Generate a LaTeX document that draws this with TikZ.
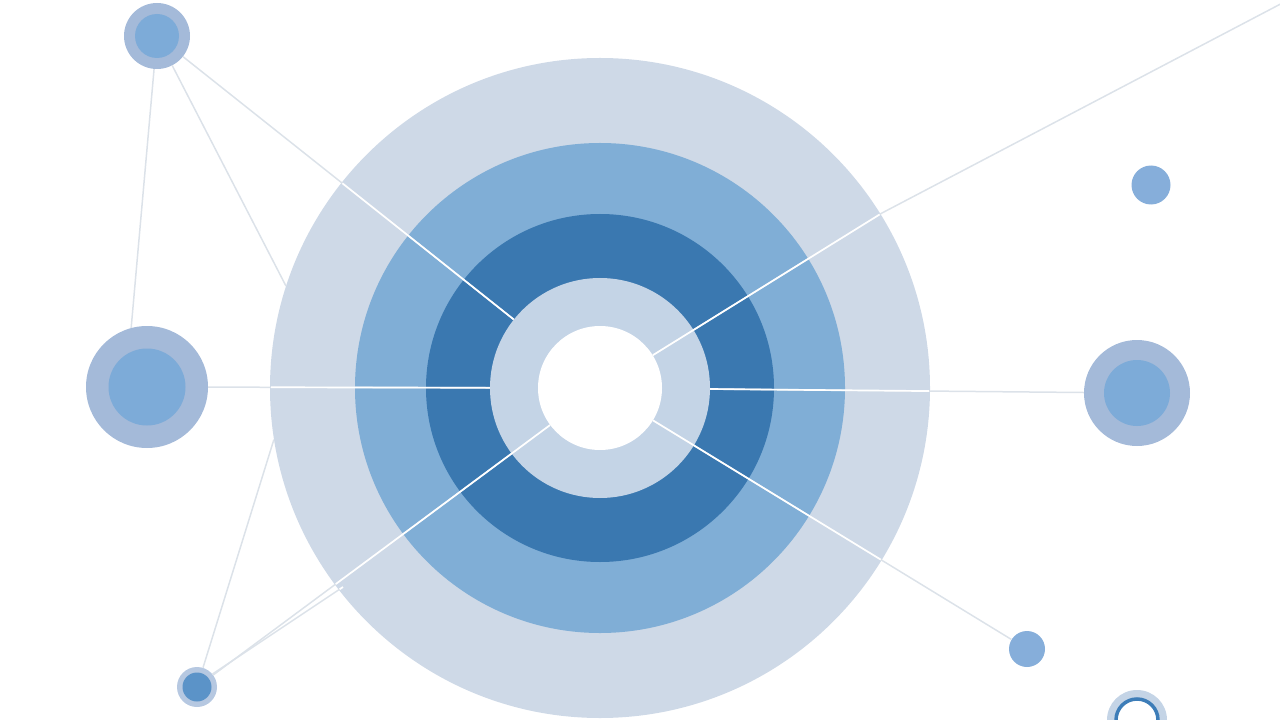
\documentclass[tikz,border=0pt]{standalone}
\usepackage{tikz}
\usetikzlibrary{positioning,calc}
\usepackage{xcolor}
\definecolor{ringA}{HTML}{CED9E7}
\definecolor{ringB}{HTML}{80AED6}
\definecolor{ringC}{HTML}{3A78B0}
\definecolor{ringD}{HTML}{C4D4E6}
\definecolor{satout}{HTML}{A4BAD9}
\definecolor{satin}{HTML}{7DABD8}
\definecolor{dotblue}{HTML}{86AEDA}
\definecolor{deepdot}{HTML}{5B93C8}
\definecolor{ringline}{HTML}{3D7DB8}
\definecolor{linkgrey}{HTML}{DCE2E9}

% spokes of the hub, drawn once in grey and once in white inside the rings
\newcommand{\hubspokes}[1]{%
  \draw[#1] (tl) -- (ring4);
  \draw[#1] (tl) -- (ring1.162);
  \draw[#1] (tl) -- (lft.105);
  \draw[#1] (lft) -- (ring4);
  \draw[#1] (rgt) -- (ring4);
  \draw[#1] (core) -- (bend) -- (far);
  \draw[#1] (br) -- (core);
  \draw[#1] (bl) -- (core);
  \draw[#1] (bl) -- (ring1.189);
  \draw[#1] (bl.40) -- (rimpt);
}

\begin{document}
\begin{tikzpicture}[x=1bp, y=-1bp,
    disc/.style={circle, inner sep=0pt, draw=none},
    link/.style={draw=linkgrey, line width=1.5bp},
    inlink/.style={draw=white, line width=1.7bp}]
  \useasboundingbox (0,0) rectangle (1280,720);

  % Hub rings
  \node[disc, fill=ringA, minimum size=660bp] (ring1) at (600,388) {};
  \node[disc, fill=ringB, minimum size=490bp] (ring2) at (600,388) {};
  \node[disc, fill=ringC, minimum size=348bp] (ring3) at (600,388) {};
  \node[disc, fill=ringD, minimum size=220bp] (ring4) at (600,388) {};
  \node[disc, fill=white, minimum size=124bp] (core) at (600,388) {};

  % Satellites
  \node[disc, fill=satout, minimum size=66bp] (tl) at (157,36) {};
  \node[disc, fill=satin, minimum size=44bp] (tlin) at (tl) {};
  \node[disc, fill=satout, minimum size=122bp] (lft) at (147,387) {};
  \node[disc, fill=satin, minimum size=77bp] (lftin) at (lft) {};
  \node[disc, fill=satout, minimum size=106bp] (rgt) at (1137,393) {};
  \node[disc, fill=satin, minimum size=66bp] (rgtin) at (rgt) {};
  \node[disc, fill=dotblue, minimum size=39bp] (tr) at (1151,185) {};
  \node[disc, fill=dotblue, minimum size=36bp] (br) at (1027,649) {};
  \node[disc, fill=satout!80, minimum size=40bp] (bl) at (197,687) {};
  \node[disc, fill=deepdot, minimum size=29bp] (blin) at (bl) {};
  \node[disc, fill=ringD, minimum size=60bp] (ringdot) at (1137,720) {};
  \node[disc, fill=white, draw=ringline, line width=3.5bp, minimum size=42bp] (ringdotin) at (ringdot) {};

  % Free ends
  \coordinate (bend) at (882,213);
  \coordinate (far) at (1292,-2);
  \coordinate (rimpt) at (343,587);

  % Spokes
  \hubspokes{link}
  \begin{scope}
    \clip (ring1.center) circle [radius=329bp];
    \hubspokes{inlink}
  \end{scope}
\end{tikzpicture}
\end{document}
